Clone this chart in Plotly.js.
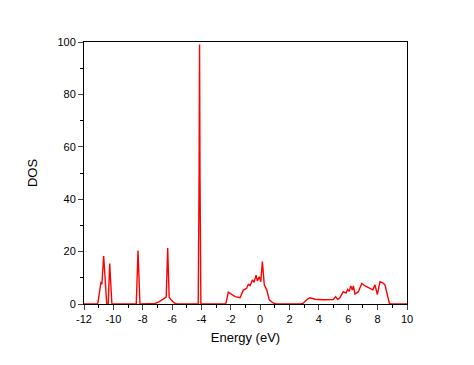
<!DOCTYPE html>
<html>
<head>
<meta charset="utf-8">
<script src="https://cdn.plot.ly/plotly-3.0.1.min.js"></script>
<style>html,body{margin:0;padding:0;background:#fff;}#chart{width:474px;height:365px;}</style>
</head>
<body>
<div id="chart"></div>
<script>
const energy = [-12, -11.1, -11.05, -10.84, -10.78, -10.66, -10.45, -10.35, -10.25, -10.1, -8.44, -8.32, -8.19,
  -7.28, -7.16, -6.9, -6.55, -6.40, -6.30, -6.2, -6.03, -5.85, -5.69,
  -4.22, -4.16, -4.13, -4.10, -4.04,
  -2.4, -2.33, -2.17, -1.95, -1.71, -1.37, -1.15, -0.92, -0.81, -0.69, -0.53, -0.42, -0.28, -0.19, -0.06, 0.04, 0.15, 0.28, 0.45, 0.62, 0.9, 1.1,
  2.75, 2.94, 3.2, 3.4, 3.74, 4.3, 4.98, 5.14, 5.28, 5.44, 5.66, 5.85, 5.96, 6.07, 6.17, 6.28, 6.35, 6.46, 6.69, 6.92, 7.14, 7.48, 7.67, 7.82, 7.98, 8.16, 8.35, 8.5, 8.62, 8.8, 8.9, 10];
const dos = [0, 0, 0.5, 8.5, 7.5, 18.3, 0, 0, 15.4, 0, 0, 20.4, 0,
  0, 0.2, 0.8, 2.0, 2.6, 21.4, 2.6, 1.3, 0.4, 0,
  0, 50, 99, 50, 0,
  0, 0.3, 4.5, 3.8, 2.8, 2.4, 5.3, 6.0, 7.5, 7.0, 9.2, 8.3, 11.0, 8.8, 10.4, 8.5, 16.2, 7.3, 5.3, 1.6, 0.3, 0,
  0, 0.3, 1.8, 2.4, 1.8, 1.6, 1.7, 2.8, 1.7, 2.5, 4.7, 4.2, 5.6, 4.8, 6.9, 5.3, 6.9, 3.8, 4.7, 7.9, 6.9, 6.0, 5.4, 7.3, 3.6, 8.5, 8.1, 7.3, 4.3, 0.3, 0, 0];

const xTickVals = [-12, -10, -8, -6, -4, -2, 0, 2, 4, 6, 8, 10];
const xTickText = ['-12', '-10', '-8', '-6', '-4', '-2', '0', '2', '4', '6', '8', '10'];

const axisFont = {family: 'Liberation Sans, Arial, sans-serif', size: 11, color: '#000'};
const titleFont = {family: 'Liberation Sans, Arial, sans-serif', size: 13, color: '#000'};

Plotly.newPlot('chart', [{
  x: energy, y: dos, type: 'scatter', mode: 'lines',
  line: {color: '#ff0000', width: 1.4}
}], {
  width: 474, height: 365,
  margin: {l: 84, r: 67, t: 42, b: 61},
  paper_bgcolor: '#fff', plot_bgcolor: '#fff',
  showlegend: false,
  xaxis: {
    range: [-12, 10], tickmode: 'array', tickvals: xTickVals, ticktext: xTickText,
    ticks: 'outside', ticklen: 5, tickwidth: 1,
    showline: true, mirror: true, linecolor: '#000', linewidth: 1, showgrid: false, zeroline: false,
    tickfont: axisFont,
    minor: {dtick: 1, tick0: -12, ticks: 'outside', ticklen: 3, tickcolor: '#000', showgrid: false},
    title: {text: 'Energy (eV)', font: titleFont, standoff: 8}
  },
  yaxis: {
    range: [0, 100], dtick: 20, ticks: 'outside', ticklen: 5, tickwidth: 1,
    showline: true, mirror: true, linecolor: '#000', linewidth: 1, showgrid: false, zeroline: false,
    tickfont: axisFont,
    minor: {dtick: 10, ticks: 'outside', ticklen: 3, tickcolor: '#000', showgrid: false},
    title: {text: 'DOS', font: titleFont, standoff: 16}
  }
}, {displayModeBar: false, staticPlot: true});
</script>
</body>
</html>
